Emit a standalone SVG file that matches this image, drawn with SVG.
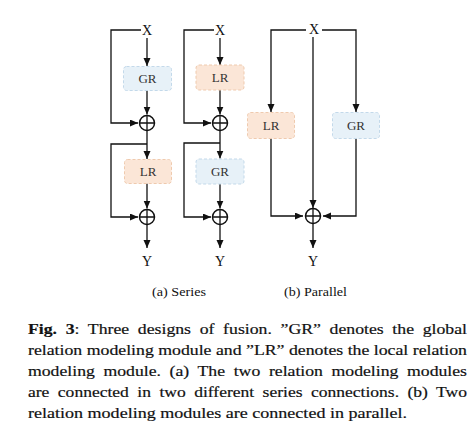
<svg xmlns="http://www.w3.org/2000/svg" width="474" height="439" viewBox="0 0 474 439">
<style>
.ln{fill:none;stroke:#111;stroke-width:1.3}
.gr{fill:#e7f1f8;stroke:#c3d9ea;stroke-width:1;stroke-dasharray:3 2}
.lr{fill:#fbe6d7;stroke:#efcaae;stroke-width:1;stroke-dasharray:3 2}
.bt{font-size:13px;fill:#333;text-anchor:middle}
.io{font-size:14px;fill:#111;text-anchor:middle}
.pl{fill:#fff;stroke:#111;stroke-width:1.5}
.sc{font-size:12.5px;fill:#111}
.cap{font-size:15.5px;fill:#111;stroke:#111;stroke-width:0.2}
</style>
<defs>
<marker id="ah" markerUnits="userSpaceOnUse" markerWidth="9" markerHeight="8" refX="8" refY="3.5" orient="auto">
<path d="M0,0 L8,3.5 L0,7 z" fill="#111"/>
</marker>
<g id="plusSym">
<circle r="7.5" class="pl"/>
<path d="M-7.5,0 H7.5 M0,-7.5 V7.5" stroke="#111" stroke-width="1.3"/>
</g>
</defs>
<rect width="474" height="439" fill="#fff"/>

<g id="connectors">
<polyline class="ln" points="141,30 111,30 111,123 138,123" marker-end="url(#ah)"/>
<line class="ln" x1="147" y1="38" x2="147" y2="66" marker-end="url(#ah)"/>
<line class="ln" x1="147" y1="90.5" x2="147" y2="114.5" marker-end="url(#ah)"/>
<line class="ln" x1="147" y1="130.5" x2="147" y2="159" marker-end="url(#ah)"/>
<polyline class="ln" points="147,144 111,144 111,217 138,217" marker-end="url(#ah)"/>
<line class="ln" x1="147" y1="183.5" x2="147" y2="208.5" marker-end="url(#ah)"/>
<line class="ln" x1="147" y1="224.5" x2="147" y2="248" marker-end="url(#ah)"/>
<polyline class="ln" points="214,30 184,30 184,123 211,123" marker-end="url(#ah)"/>
<line class="ln" x1="220" y1="38" x2="220" y2="65" marker-end="url(#ah)"/>
<line class="ln" x1="220" y1="90" x2="220" y2="114.5" marker-end="url(#ah)"/>
<line class="ln" x1="220" y1="130.5" x2="220" y2="158.5" marker-end="url(#ah)"/>
<polyline class="ln" points="220,143 184,143 184,217 211,217" marker-end="url(#ah)"/>
<line class="ln" x1="220" y1="184" x2="220" y2="208.5" marker-end="url(#ah)"/>
<line class="ln" x1="220" y1="224.5" x2="220" y2="248" marker-end="url(#ah)"/>
<polyline class="ln" points="306,30 271,30 271,112" marker-end="url(#ah)"/>
<polyline class="ln" points="322,30 356,30 356,112" marker-end="url(#ah)"/>
<line class="ln" x1="313" y1="37" x2="313" y2="208" marker-end="url(#ah)"/>
<polyline class="ln" points="271,138.5 271,216 303,216" marker-end="url(#ah)"/>
<polyline class="ln" points="356,138.5 356,216 323,216" marker-end="url(#ah)"/>
<line class="ln" x1="313" y1="223.5" x2="313" y2="248" marker-end="url(#ah)"/>
</g>

<g font-family="Liberation Serif, serif">
<g id="a1-x"><text class="io" x="147" y="35">X</text></g>
<g id="a1-gr"><rect class="gr" x="123.5" y="66.5" width="48" height="24" rx="3"/><text class="bt" x="147.5" y="83">GR</text></g>
<g id="a1-plus1"><use href="#plusSym" x="147" y="123"/></g>
<g id="a1-lr"><rect class="lr" x="124.5" y="159.5" width="47" height="24" rx="3"/><text class="bt" x="148" y="176">LR</text></g>
<g id="a1-plus2"><use href="#plusSym" x="147" y="217"/></g>
<g id="a1-y"><text class="io" x="147" y="266">Y</text></g>

<g id="a2-x"><text class="io" x="220" y="35">X</text></g>
<g id="a2-lr"><rect class="lr" x="196" y="65" width="48" height="25" rx="3"/><text class="bt" x="220" y="82">LR</text></g>
<g id="a2-plus1"><use href="#plusSym" x="220" y="123"/></g>
<g id="a2-gr"><rect class="gr" x="196" y="159" width="48" height="25" rx="3"/><text class="bt" x="220" y="176">GR</text></g>
<g id="a2-plus2"><use href="#plusSym" x="220" y="217"/></g>
<g id="a2-y"><text class="io" x="220" y="266">Y</text></g>

<g id="b-x"><text class="io" x="314" y="34">X</text></g>
<g id="b-lr"><rect class="lr" x="247.5" y="112.5" width="47" height="26" rx="3"/><text class="bt" x="271" y="130">LR</text></g>
<g id="b-gr"><rect class="gr" x="332.5" y="112.5" width="47" height="26" rx="3"/><text class="bt" x="356" y="130">GR</text></g>
<g id="b-plus"><use href="#plusSym" x="313" y="216"/></g>
<g id="b-y"><text class="io" x="313" y="266">Y</text></g>

<g id="subcaptions">
<text class="sc" x="152" y="296" textLength="54" lengthAdjust="spacingAndGlyphs">(a) Series</text>
<text class="sc" x="284" y="296" textLength="63" lengthAdjust="spacingAndGlyphs">(b) Parallel</text>
</g>

<g id="caption">
<text class="cap" x="28" y="334" textLength="439" lengthAdjust="spacingAndGlyphs" style="word-spacing:3.7px"><tspan font-weight="bold">Fig. 3</tspan>: Three designs of fusion. ”GR” denotes the global</text>
<text class="cap" x="28" y="355" textLength="439" lengthAdjust="spacingAndGlyphs">relation modeling module and ”LR” denotes the local relation</text>
<text class="cap" x="28" y="376" textLength="439" lengthAdjust="spacingAndGlyphs" style="word-spacing:3.7px">modeling module. (a) The two relation modeling modules</text>
<text class="cap" x="28" y="397" textLength="439" lengthAdjust="spacingAndGlyphs" style="word-spacing:3.6px">are connected in two different series connections. (b) Two</text>
<text class="cap" x="28" y="418" textLength="379" lengthAdjust="spacingAndGlyphs">relation modeling modules are connected in parallel.</text>
</g>
</g>
</svg>
